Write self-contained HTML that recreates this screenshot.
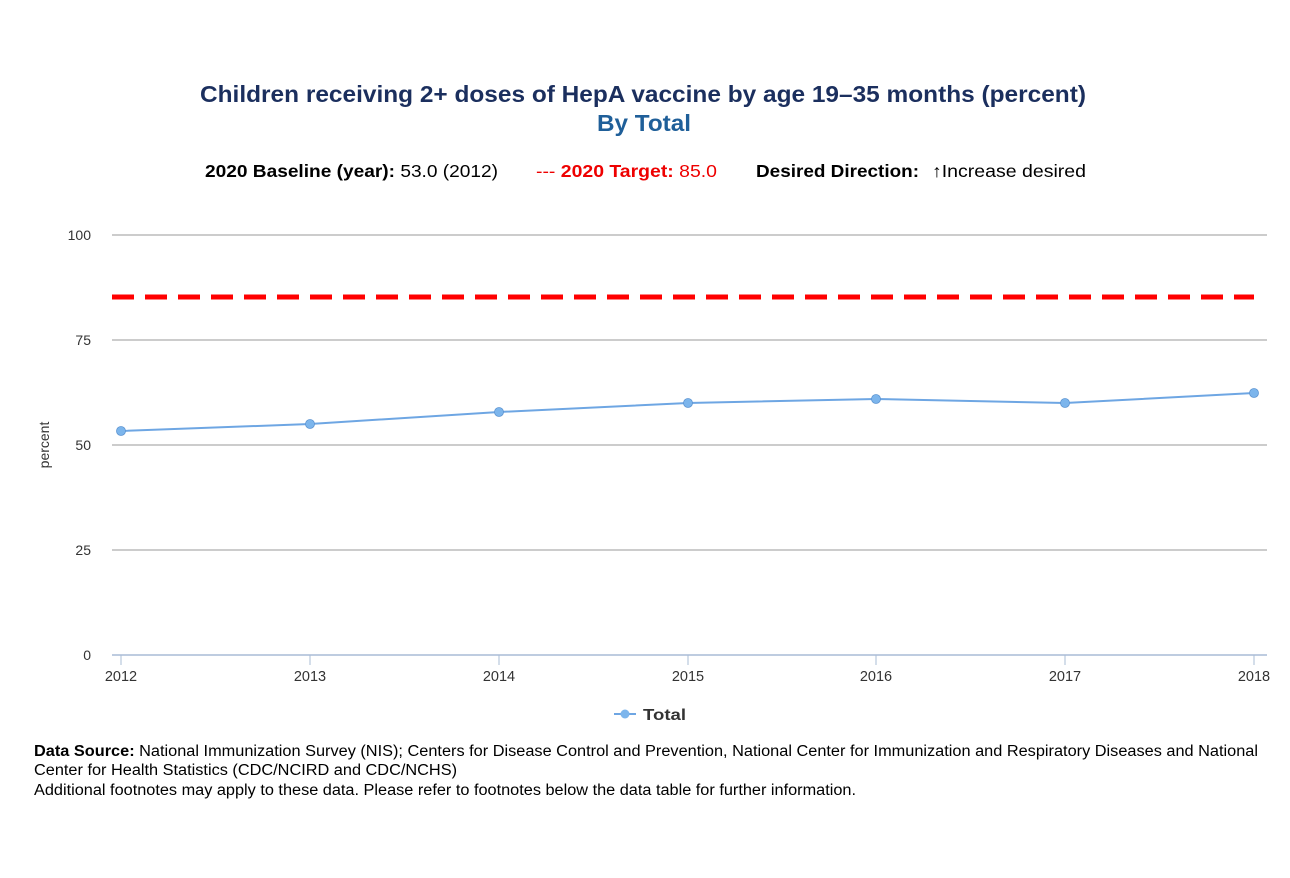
<!DOCTYPE html>
<html><head><meta charset="utf-8"><style>
body{margin:0;background:#fff;}
svg{display:block}
</style></head><body>
<svg width="1290" height="878" xmlns="http://www.w3.org/2000/svg" font-family="Liberation Sans, sans-serif">
<rect x="0" y="0" width="1290" height="878" fill="#fff"/>
<text x="200" y="102" textLength="886" lengthAdjust="spacingAndGlyphs" font-size="23" font-weight="bold" fill="#1b2f5e">Children receiving 2+ doses of HepA vaccine by age 19–35 months (percent)</text>
<text x="597" y="131" textLength="94" lengthAdjust="spacingAndGlyphs" font-size="23" font-weight="bold" fill="#1f5f99">By Total</text>
<text x="205" y="177" textLength="293" lengthAdjust="spacingAndGlyphs" font-size="17.5" fill="#000"><tspan font-weight="bold">2020 Baseline (year):</tspan> 53.0 (2012)</text>
<text x="536" y="177" textLength="181" lengthAdjust="spacingAndGlyphs" font-size="17.5" fill="#e00">--- <tspan font-weight="bold">2020 Target:</tspan> 85.0</text>
<text x="756" y="177" font-size="17.5" fill="#000" font-weight="bold" textLength="163" lengthAdjust="spacingAndGlyphs">Desired Direction:</text>
<text x="932" y="177" font-size="17.5" fill="#000" textLength="154" lengthAdjust="spacingAndGlyphs">↑Increase desired</text>
<g stroke="#999" stroke-width="1">
<line x1="112" y1="235" x2="1267" y2="235"/>
<line x1="112" y1="340" x2="1267" y2="340"/>
<line x1="112" y1="445" x2="1267" y2="445"/>
<line x1="112" y1="550" x2="1267" y2="550"/>
</g>
<line x1="112" y1="655" x2="1267" y2="655" stroke="#a9bcd6" stroke-width="1.5"/>
<g stroke="#a9bcd6" stroke-width="1">
<line x1="121" y1="655" x2="121" y2="665"/><line x1="310" y1="655" x2="310" y2="665"/><line x1="499" y1="655" x2="499" y2="665"/><line x1="688" y1="655" x2="688" y2="665"/><line x1="876" y1="655" x2="876" y2="665"/><line x1="1065" y1="655" x2="1065" y2="665"/><line x1="1254" y1="655" x2="1254" y2="665"/>
</g>
<g font-size="14" fill="#333" text-anchor="end">
<text x="91" y="240">100</text><text x="91" y="345">75</text><text x="91" y="450">50</text><text x="91" y="555">25</text><text x="91" y="660">0</text>
</g>
<text transform="translate(49,445) rotate(-90)" text-anchor="middle" font-size="14" fill="#333">percent</text>
<g font-size="14.5" fill="#333" text-anchor="middle">
<text x="121" y="681">2012</text><text x="310" y="681">2013</text><text x="499" y="681">2014</text><text x="688" y="681">2015</text><text x="876" y="681">2016</text><text x="1065" y="681">2017</text><text x="1254" y="681">2018</text>
</g>
<line x1="112" y1="297" x2="1254" y2="297" stroke="#f00" stroke-width="5" stroke-dasharray="22,11"/>
<polyline fill="none" stroke="#6ea6e3" stroke-width="2" points="121,431 310,424 499,412 688,403 876,399 1065,403 1254,393"/>
<g fill="#7cb5ec" stroke="#5d95d2" stroke-width="0.8">
<circle cx="121" cy="431" r="4.5"/><circle cx="310" cy="424" r="4.5"/><circle cx="499" cy="412" r="4.5"/><circle cx="688" cy="403" r="4.5"/><circle cx="876" cy="399" r="4.5"/><circle cx="1065" cy="403" r="4.5"/><circle cx="1254" cy="393" r="4.5"/>
</g>
<line x1="614" y1="714" x2="636" y2="714" stroke="#6ea6e3" stroke-width="2"/>
<circle cx="625" cy="714" r="4.5" fill="#7cb5ec"/>
<text x="643" y="720" font-size="16" font-weight="bold" fill="#333" textLength="43" lengthAdjust="spacingAndGlyphs">Total</text>
<g font-size="15.5" fill="#000">
<text x="34" y="756" textLength="1224" lengthAdjust="spacingAndGlyphs"><tspan font-weight="bold">Data Source:</tspan> National Immunization Survey (NIS); Centers for Disease Control and Prevention, National Center for Immunization and Respiratory Diseases and National</text>
<text x="34" y="775" textLength="423" lengthAdjust="spacingAndGlyphs">Center for Health Statistics (CDC/NCIRD and CDC/NCHS)</text>
<text x="34" y="795" textLength="822" lengthAdjust="spacingAndGlyphs">Additional footnotes may apply to these data. Please refer to footnotes below the data table for further information.</text>
</g>
</svg>
</body></html>
